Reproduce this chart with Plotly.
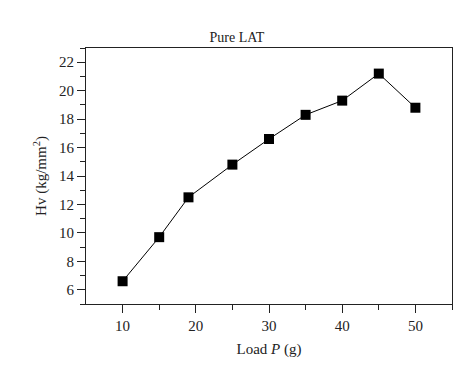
import plotly.graph_objects as go

load_g = [10, 15, 19, 25, 30, 35, 40, 45, 50]
hv = [6.6, 9.7, 12.5, 14.8, 16.6, 18.3, 19.3, 21.2, 18.8]

font_family = "Liberation Serif, Times New Roman, serif"
W, H = 458, 360

fig = go.Figure()
fig.add_trace(go.Scatter(
    x=load_g, y=hv, mode="lines+markers",
    line=dict(color="black", width=1),
    marker=dict(symbol="square", size=10, color="black"),
    showlegend=False,
))

axis_common = dict(
    showline=True, linecolor="#222", linewidth=1, mirror=True,
    ticks="outside", ticklen=8, tickwidth=1, tickcolor="#222",
    showgrid=False, zeroline=False,
    tickfont=dict(family=font_family, size=15, color="#222"),
)

fig.update_layout(
    width=W, height=H,
    margin=dict(l=78, r=14, t=40, b=64),
    paper_bgcolor="white", plot_bgcolor="white",
    font=dict(family=font_family, size=15, color="#222"),
    title=dict(text="Pure LAT", x=0.5, xanchor="center", y=1 - 29/H, yanchor="middle",
               font=dict(family=font_family, size=14, color="#222")),
    xaxis=dict(range=[5, 55], tickvals=[10, 20, 30, 40, 50],
               minor=dict(tickvals=[15, 25, 35, 45, 55], ticks="outside", ticklen=5, tickcolor="#222"),
               title=dict(text="Load <i>P</i> (g)", standoff=10,
                          font=dict(family=font_family, size=15, color="#222")),
               **axis_common),
    yaxis=dict(range=[5, 23], tickvals=[6, 8, 10, 12, 14, 16, 18, 20, 22],
               minor=dict(tickvals=[5, 7, 9, 11, 13, 15, 17, 19, 21, 23], ticks="outside", ticklen=5, tickcolor="#222"),
               title=dict(text="Hv (kg/mm<sup>2</sup>)", standoff=8,
                          font=dict(family=font_family, size=15, color="#222")),
               **axis_common),
)

fig.write_html("out.html")
